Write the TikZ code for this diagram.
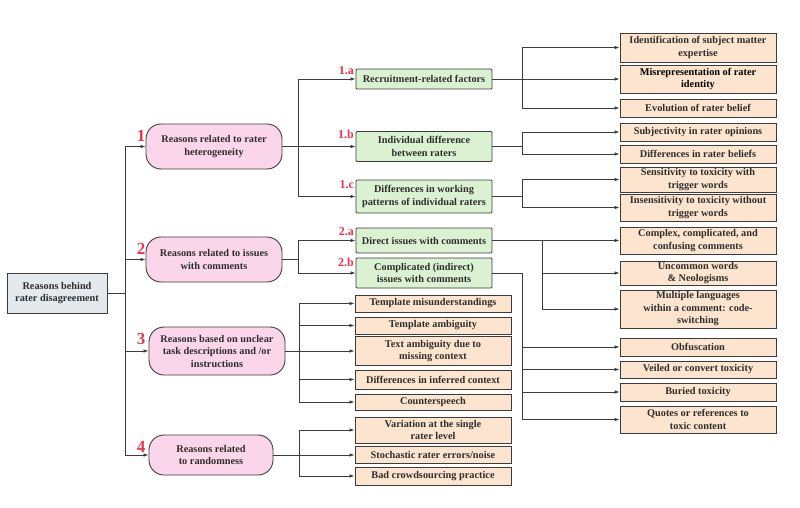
\documentclass[tikz,border=0pt]{standalone}
\usepackage{fontspec}
\setmainfont{Liberation Serif}
\usepackage{tikz}
\usetikzlibrary{arrows.meta}

\definecolor{linec}{HTML}{3C3C3C}
\definecolor{textc}{HTML}{2E2E2E}
\definecolor{rootfill}{HTML}{E3E9EC}
\definecolor{pinkfill}{HTML}{FBD6EA}
\definecolor{greenfill}{HTML}{DAF2D2}
\definecolor{peachfill}{HTML}{FDE4CF}
\definecolor{numred}{HTML}{E8344C}

\tikzset{
    box/.style={draw=linec, line width=0.9pt, text=textc, align=center, inner sep=1pt,
        font=\fontsize{10.3}{12.5}\selectfont\bfseries},
    rootbox/.style={box, fill=rootfill, minimum width=100, minimum height=40},
    catbox/.style={box, fill=pinkfill, rounded corners=15, minimum width=136},
    subbox/.style={box, fill=greenfill, rounded corners=1, minimum width=136},
    leafbox/.style={box, fill=peachfill, minimum width=156},
    arr/.style={draw=linec, line width=0.8pt, -{Latex[length=5pt,width=3.6pt]}},
    ln/.style={draw=linec, line width=0.8pt},
    catnum/.style={text=numred, font=\fontsize{17}{17}\selectfont\bfseries, inner sep=0pt},
    subnum/.style={text=numred, font=\fontsize{12}{12}\selectfont\bfseries, inner sep=0pt, anchor=east}
}

\begin{document}
\begin{tikzpicture}[x=1pt, y=-1pt]
    \useasboundingbox (0,0) rectangle (800,508);

    % root and the four groups
    \node[rootbox] (root) at (57,293) {Reasons behind\\rater disagreement};
    \node[catbox, minimum height=45] (c1) at (214,146.5) {Reasons related to rater\\heterogeneity};
    \node[catbox, minimum height=45] (c2) at (214,259.5) {Reasons related to issues\\with comments};
    \node[catbox, minimum height=48] (c3) at (217,351) {Reasons based on unclear\\task descriptions and /or\\instructions};
    \node[catbox, minimum width=124, minimum height=40] (c4) at (211,455) {Reasons related\\to randomness};
    \node[catnum] (n1) at (141,136) {1};
    \node[catnum] (n2) at (141,249) {2};
    \node[catnum] (n3) at (141,339) {3};
    \node[catnum] (n4) at (141,447) {4};

    % second level
    \node[subbox, minimum height=20] (s1a) at (424,79) {Recruitment-related factors};
    \node[subbox, minimum height=30] (s1b) at (424,146.5) {Individual difference\\between raters};
    \node[subbox, minimum height=33] (s1c) at (424,196.5) {Differences in working\\patterns of individual raters};
    \node[subbox, minimum height=25] (s2a) at (424,240.5) {Direct issues with comments};
    \node[subbox, minimum height=30] (s2b) at (424,273) {Complicated (indirect)\\issues with comments};
    \node[subnum] (m1a) at ([xshift=-1.5, yshift=-2.5]s1a.north west) {1.a};
    \node[subnum] (m1b) at ([xshift=-1.5, yshift=-3]s1b.north west) {1.b};
    \node[subnum] (m1c) at ([xshift=-1.5, yshift=-5]s1c.north west) {1.c};
    \node[subnum] (m2a) at ([xshift=-1.5, yshift=-4.5]s2a.north west) {2.a};
    \node[subnum] (m2b) at ([xshift=-1.5, yshift=-5]s2b.north west) {2.b};

    \node[leafbox, minimum height=17] (t1) at (433,303.5) {Template misunderstandings};
    \node[leafbox, minimum height=17] (t2) at (433,325.5) {Template ambiguity};
    \node[leafbox, minimum height=29] (t3) at (433,351) {Text ambiguity due to\\missing context};
    \node[leafbox, minimum height=19] (t4) at (433,379.5) {Differences in inferred context};
    \node[leafbox, minimum height=16] (t5) at (433,402) {Counterspeech};
    \node[leafbox, minimum height=26] (r1) at (433,430) {Variation at the single\\rater level};
    \node[leafbox, minimum height=17] (r2) at (433,455) {Stochastic rater errors/noise};
    \node[leafbox, minimum height=18] (r3) at (433,476) {Bad crowdsourcing practice};

    % right column
    \node[leafbox, minimum height=29] (a1) at (698,47.5) {Identification of subject matter\\expertise};
    \node[leafbox, minimum height=28, text=black] (a2) at (698,79) {Misrepresentation of rater\\identity};
    \node[leafbox, minimum height=18] (a3) at (698,108) {Evolution of rater belief};
    \node[leafbox, minimum height=18] (b1) at (698,132) {Subjectivity in rater opinions};
    \node[leafbox, minimum height=18] (b2) at (698,154) {Differences in rater beliefs};
    \node[leafbox, minimum height=25] (d1) at (698,179.5) {Sensitivity to toxicity with\\trigger words};
    \node[leafbox, minimum height=27] (d2) at (698,207.5) {Insensitivity to toxicity without\\trigger words};
    \node[leafbox, minimum height=27] (e1) at (698,240.5) {Complex, complicated, and\\confusing comments};
    \node[leafbox, minimum height=24] (e2) at (698,273) {Uncommon words\\\& Neologisms};
    \node[leafbox, minimum height=38] (e3) at (698,309) {Multiple languages\\within a comment: code-\\switching};
    \node[leafbox, minimum height=18] (f1) at (698,347) {Obfuscation};
    \node[leafbox, minimum height=17] (f2) at (698,369.5) {Veiled or convert toxicity};
    \node[leafbox, minimum height=18] (f3) at (698,392) {Buried toxicity};
    \node[leafbox, minimum height=27] (f4) at (698,419.5) {Quotes or references to\\toxic content};

    % branch points
    \coordinate (k0) at (125,293);
    \coordinate (k1) at (298,146.5);
    \coordinate (k2) at (298,259.5);
    \coordinate (k3) at (299,351);
    \coordinate (k4) at (299,455);
    \coordinate (k5) at (522,79);
    \coordinate (k6) at (522,146.5);
    \coordinate (k7) at (522,196.5);
    \coordinate (k8) at (542,240.5);
    \coordinate (k9) at (522,273);

    \draw[ln] (root) -- (k0);
    \foreach \c in {c1,c2,c3,c4}
        \draw[arr] (k0) |- (\c);

    \draw[ln] (c1) -- (k1);
    \foreach \c in {s1a,s1b,s1c}
        \draw[arr] (k1) |- (\c);
    \draw[ln] (c2) -- (k2);
    \foreach \c in {s2a,s2b}
        \draw[arr] (k2) |- (\c);
    \draw[ln] (c3) -- (k3);
    \foreach \c in {t1,t2,t3,t4,t5}
        \draw[arr] (k3) |- (\c);
    \draw[ln] (c4) -- (k4);
    \foreach \c in {r1,r2,r3}
        \draw[arr] (k4) |- (\c);

    \draw[ln] (s1a) -- (k5);
    \foreach \c in {a1,a2,a3}
        \draw[arr] (k5) |- (\c);
    \draw[ln] (s1b) -- (k6);
    \foreach \c in {b1,b2}
        \draw[arr] (k6) |- (\c);
    \draw[ln] (s1c) -- (k7);
    \foreach \c in {d1,d2}
        \draw[arr] (k7) |- (\c);
    \draw[ln] (s2a) -- (k8);
    \foreach \c in {e1,e2,e3}
        \draw[arr] (k8) |- (\c);
    \draw[ln] (s2b) -- (k9);
    \foreach \c in {f1,f2,f3,f4}
        \draw[arr] (k9) |- (\c);
\end{tikzpicture}
\end{document}
